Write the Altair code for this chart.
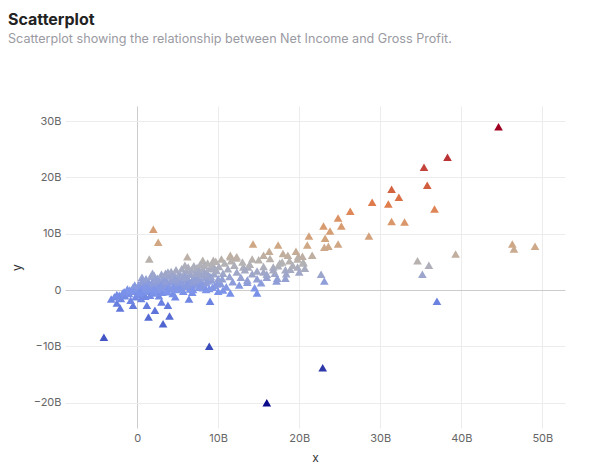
import altair as alt
import pandas as pd

# Net income (x) and gross profit (y), in billions
xs = [
    # outliers / sparse region
    44.6, 38.3, 35.4, 35.8, 31.4, 32.3, 29.0, 31.0, 36.7, 26.3, 24.8, 25.2, 23.0, 23.8,
    31.4, 33.0, 21.2, 23.2, 28.6, 21.0, 23.1, 23.6, 24.8, 46.3, 46.5, 49.1, 39.3, 21.6,
    20.5, 34.6, 36.0, 35.2, 22.7, 23.1, 37.0,
    14.3, 17.4, 15.6, 16.3, 18.6, 19.9, 11.5, 12.2, 14.2, 19.8, 20.5, 17.9, 16.8, 17.4,
    13.1, 13.7, 18.3, 18.9, 15.6, 17.0, 19.8, 20.7, 16.0, 17.3, 18.3, 14.8, 13.6, 14.8,
    11.5, 10.6,
    2.0, 2.6, 1.5, -2.5, -2.1, -4.1, 1.4, 2.2, 4.0, 3.2, 3.0, 3.8, 6.4, 9.0, 1.2, -0.5,
    4.7, 6.8, 8.1, 10.0, 0.6, 1.9, 3.8, 5.9, 6.2, 8.1, 9.4, 11.5, 12.3,
    8.9, 16.0, 22.9,
    # dense cluster
    -3.2, -2.8, -2.5, -2.0, -1.8, -1.5, -1.2, -1.0, -0.8, -0.5, -0.4, -0.2,
    0.0, 0.1, 0.2, 0.3, 0.4, 0.5, 0.6, 0.7, 0.8, 0.9, 1.0, 1.0,
    1.1, 1.2, 1.3, 1.4, 1.5, 1.6, 1.7, 1.8, 1.9, 2.0, 2.0,
    2.1, 2.2, 2.3, 2.4, 2.5, 2.6, 2.7, 2.8, 2.9, 3.0, 3.0,
    3.1, 3.2, 3.3, 3.4, 3.5, 3.6, 3.7, 3.8, 3.9, 4.0,
    4.1, 4.2, 4.3, 4.4, 4.5, 4.6, 4.7, 4.8, 4.9, 5.0,
    5.1, 5.2, 5.3, 5.4, 5.5, 5.6, 5.7, 5.8, 5.9, 6.0,
    6.1, 6.2, 6.3, 6.4, 6.5, 6.6, 6.7, 6.8, 6.9, 7.0,
    7.1, 7.2, 7.3, 7.4, 7.5, 7.6, 7.7, 7.8, 7.9, 8.0,
    8.1, 8.2, 8.3, 8.4, 8.5, 8.6, 8.7, 8.8, 8.9, 9.0,
    9.2, 9.3, 9.5, 9.6, 9.7, 9.8, 10.0, 10.1, 10.3, 10.4,
    10.6, 10.8, 11.0, 11.2, 11.4, 11.6, 11.8, 12.0, 12.3, 12.6,
    12.8, 13.0, 13.3, 13.6, 13.9, 14.2, 14.5, 14.8, 15.0, 15.3,
    15.6, 16.0, 16.4, 16.8, 17.2, 17.6, 18.0, 18.4, 18.8, 19.2, 19.6, 20.0, 20.4,
    # extra cluster fill
    -2.2, -1.6, -0.9, -0.3, 0.2, 0.6, 1.1, 1.5, 1.9, 2.3, 2.7, 3.1, 3.5, 3.9, 4.3,
    4.7, 5.1, 5.5, 5.9, 6.3, 6.7, 7.1, 7.5, 7.9, 8.3, 8.7, 9.1, 9.5, 9.9, 10.5,
    0.4, 1.3, 2.1, 2.9, 3.7, 4.5, 5.3, 6.1, 6.9, 7.7, 8.5, 9.3,
]
ys = [
    29.0, 23.6, 21.8, 18.6, 17.9, 16.5, 15.6, 15.3, 14.4, 14.0, 12.8, 11.4, 11.4, 10.5,
    12.2, 12.1, 9.6, 9.2, 9.6, 8.0, 7.6, 7.8, 8.2, 8.2, 7.3, 7.8, 6.4, 6.2,
    5.0, 5.2, 4.4, 2.8, 2.8, 1.6, -2.0,
    8.2, 8.0, 6.2, 6.9, 6.2, 6.0, 5.9, 5.7, 5.5, 5.5, 4.8, 5.0, 4.1, 4.3,
    4.1, 4.1, 3.6, 3.7, 3.2, 3.0, 4.1, 3.9, 2.3, 2.1, 2.1, 2.0, 1.4, -0.5,
    -0.5, 0.0,
    10.8, 8.5, 5.5, -2.3, -3.2, -8.4, -4.8, -3.6, -4.6, -6.0, -2.1, -2.7, -1.6, -2.0, -2.7, -2.7,
    -1.2, -0.4, 0.4, -0.2, 2.3, 3.0, 3.2, 4.4, 5.9, 5.3, 5.3, 6.2, 5.9,
    -10.0, -20.0, -13.8,
    -1.6, -1.2, -0.8, -1.5, -0.5, -1.0, 0.2, -0.6, -1.8, 0.5, -0.2, -1.2,
    0.3, -0.8, 1.0, -0.3, 0.6, -1.5, 1.6, 0.1, -0.6, 1.2, 0.4, -1.1,
    2.0, 0.8, -0.2, 1.5, 0.0, -0.9, 2.4, 1.0, 0.3, -0.5, 1.8,
    2.6, 0.6, 1.3, -0.2, 2.1, 0.9, -1.0, 1.6, 0.2, 2.8, 1.0,
    -0.4, 2.2, 1.4, 0.5, 3.0, 1.8, -0.3, 1.0, 2.5, 0.3,
    1.5, 3.3, 2.0, -0.6, 0.8, 2.7, 1.2, 3.6, 0.1, 2.2,
    1.6, 3.0, 0.6, 2.4, 3.8, 1.0, -0.2, 2.9, 1.8, 0.7,
    3.4, 2.2, 4.1, 1.3, 0.2, 2.8, 3.6, 1.7, 0.9, 4.3,
    2.5, 3.1, 1.2, 4.0, 2.0, 0.5, 3.4, 4.6, 1.6, 2.7,
    3.8, 0.9, 4.4, 2.2, 1.3, 3.2, 4.8, 2.6, 0.3, 3.9,
    1.8, 4.6, 2.9, 0.8, 5.1, 3.5, 2.0, 4.2, 1.2, 5.5,
    3.0, 4.8, 0.6, 3.8, 2.4, 5.2, 1.5, 4.4, 3.2, 0.9,
    2.3, 5.0, 3.6, 1.8, 4.6, 2.9, 0.4, 3.4, 5.4, 1.3,
    4.2, 2.8, 5.6, 3.6, 1.6, 4.8, 6.5, 2.9, 5.2, 4.4, 6.9, 3.2, 6.0,
    -0.9, -0.3, 0.0, 0.9, -0.4, 0.2, 0.5, 0.9, 1.4, 1.9, 0.4, 1.1, 1.6, 0.6, 2.6,
    1.9, 0.4, 1.3, 2.4, 0.9, 1.5, 1.8, 3.0, 0.9, 2.9, 1.6, 2.4, 3.8, 1.1, 2.0,
    -0.3, 0.3, 0.0, 0.7, 0.0, 0.4, 0.3, 1.0, 0.1, 0.6, 0.1, 0.5,
]

x_ticks = [0, 10, 20, 30, 40, 50]
y_ticks = [-20, -10, 0, 10, 20, 30]

color_stops = [-20, -14, -10, -4, 0, 5, 8, 12, 15, 18, 22, 29]
color_range = ["#0a0a8a", "#2c36a6", "#3a4cbc", "#5a70d8", "#7d94ea", "#b5b3b3",
               "#cfa886", "#d9996c", "#e0804f", "#d4633f", "#c2423a", "#a00020"]

B = 1e9
df = pd.DataFrame({"x": [v * B for v in xs], "y": [v * B for v in ys]})

label_expr = "replace(format(datum.value, '~s'), 'G', 'B')"
grid_color = {"condition": {"test": "datum.value === 0", "value": "#cccccc"}, "value": "#ececec"}

chart = alt.Chart(df).mark_point(
    shape="triangle-up", filled=True, size=75, opacity=1
).encode(
    x=alt.X("x:Q",
            scale=alt.Scale(domain=[-8.9 * B, 52.8 * B], nice=False, zero=False),
            axis=alt.Axis(values=[v * B for v in x_ticks], labelExpr=label_expr,
                          domain=False, ticks=False, labelPadding=4, titlePadding=9,
                          gridColor=grid_color)),
    y=alt.Y("y:Q",
            scale=alt.Scale(domain=[-24.5 * B, 32.7 * B], nice=False, zero=False),
            axis=alt.Axis(values=[v * B for v in y_ticks], labelExpr=label_expr,
                          domain=False, ticks=False, labelPadding=4, titlePadding=10,
                          gridColor=grid_color)),
    color=alt.Color("y:Q",
                    scale=alt.Scale(domain=[v * B for v in color_stops], range=color_range,
                                    interpolate="rgb"),
                    legend=None),
).properties(
    width=500,
    height=322,
    title=alt.TitleParams(
        text="Scatterplot",
        subtitle="Scatterplot showing the relationship between Net Income and Gross Profit.",
        anchor="start", frame="group", dx=-57, offset=60,
        font="Inter", fontSize=16, fontWeight="bold", color="#222222",
        subtitleFont="Inter", subtitleFontSize=12.6, subtitleColor="#9a9aa2",
        subtitlePadding=5,
    ),
    autosize=alt.AutoSizeParams(type="none"),
    padding={"left": 57, "top": 98, "right": 25, "bottom": 38},
).configure_view(
    stroke=None
).configure_axis(
    labelFont="Inter", labelFontSize=11, labelColor="#666666",
    titleFont="Inter", titleFontSize=12, titleFontWeight="normal", titleColor="#333333",
    gridWidth=1,
)

chart.save("out.html", embed_options={"renderer": "svg", "actions": False})
